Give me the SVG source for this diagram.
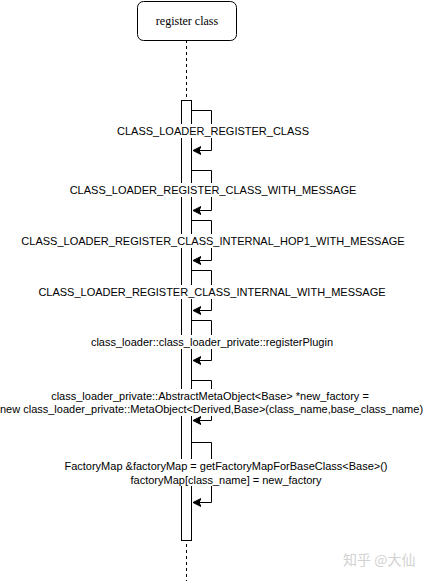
<svg xmlns="http://www.w3.org/2000/svg" width="423" height="581" viewBox="0 0 423 581">
<style>
.ln{fill:none;stroke:#000;stroke-width:1}
.lbl{font-family:"Liberation Sans",Arial,sans-serif;font-size:11px;fill:#000;text-anchor:middle}
.bg{fill:#fff;stroke:none}
</style>
<defs>
<marker id="ah" markerWidth="10" markerHeight="10" refX="8" refY="5" orient="auto" markerUnits="userSpaceOnUse">
<path d="M0,1 L8,5 L0,9 L2,5 Z" fill="#000" stroke="#000" stroke-width="1"/>
</marker>
</defs>
<rect width="423" height="581" fill="#fff"/>
<g id="lifeline">
<line x1="186.5" y1="40" x2="186.5" y2="581" stroke="#000" stroke-dasharray="3 3"/>
</g>
<g id="header">
<rect x="137.5" y="1.5" width="99" height="39" rx="6" ry="6" fill="#fff" stroke="#000"/>
<text x="187" y="24.5" font-family="Liberation Serif,'Times New Roman',serif" font-size="12" text-anchor="middle">register class</text>
</g>
<g id="activation">
<rect x="181.5" y="100.5" width="10" height="440" fill="#fff" stroke="#000"/>
</g>
<g id="connectors">
<path class="ln" d="M191.5 110.5 H211.5 V150.5 H193" marker-end="url(#ah)"/>
<path class="ln" d="M191.5 170.5 H211.5 V210.5 H193" marker-end="url(#ah)"/>
<path class="ln" d="M191.5 220.5 H211.5 V260.5 H193" marker-end="url(#ah)"/>
<path class="ln" d="M191.5 270.5 H211.5 V310.5 H193" marker-end="url(#ah)"/>
<path class="ln" d="M191.5 320.5 H211.5 V360.5 H193" marker-end="url(#ah)"/>
<path class="ln" d="M191.5 380.5 H211.5 V420.5 H193" marker-end="url(#ah)"/>
<path class="ln" d="M191.5 442.5 H211.5 V502.5 H193" marker-end="url(#ah)"/>
</g>
<g id="label1">
<rect class="bg" x="116" y="124" width="194" height="14"/>
<text class="lbl" x="213" y="135">CLASS_LOADER_REGISTER_CLASS</text>
</g>
<g id="label2">
<rect class="bg" x="69" y="183" width="289" height="14"/>
<text class="lbl" x="213" y="194">CLASS_LOADER_REGISTER_CLASS_WITH_MESSAGE</text>
</g>
<g id="label3">
<rect class="bg" x="21" y="234" width="385" height="14"/>
<text class="lbl" x="213" y="245">CLASS_LOADER_REGISTER_CLASS_INTERNAL_HOP1_WITH_MESSAGE</text>
</g>
<g id="label4">
<rect class="bg" x="37" y="285" width="349" height="14"/>
<text class="lbl" x="212" y="296">CLASS_LOADER_REGISTER_CLASS_INTERNAL_WITH_MESSAGE</text>
</g>
<g id="label5">
<rect class="bg" x="89" y="335" width="245" height="14"/>
<text class="lbl" x="212" y="346">class_loader::class_loader_private::registerPlugin</text>
</g>
<g id="label6">
<rect class="bg" x="0" y="389" width="423" height="27"/>
<text class="lbl" x="210" y="400">class_loader_private::AbstractMetaObject&lt;Base&gt; *new_factory =</text>
<text class="lbl" x="211.5" y="413">new class_loader_private::MetaObject&lt;Derived,Base&gt;(class_name,base_class_name)</text>
</g>
<g id="label7">
<rect class="bg" x="64" y="459" width="324" height="27"/>
<text class="lbl" x="226" y="470">FactoryMap &amp;factoryMap = getFactoryMapForBaseClass&lt;Base&gt;()</text>
<text class="lbl" x="226" y="484">factoryMap[class_name] = new_factory</text>
</g>
<g id="watermark">
<text x="343" y="565" font-family="'Noto Sans CJK SC',sans-serif" font-size="14" fill="#d2d2d2">知乎 @大仙</text>
</g>
</svg>
